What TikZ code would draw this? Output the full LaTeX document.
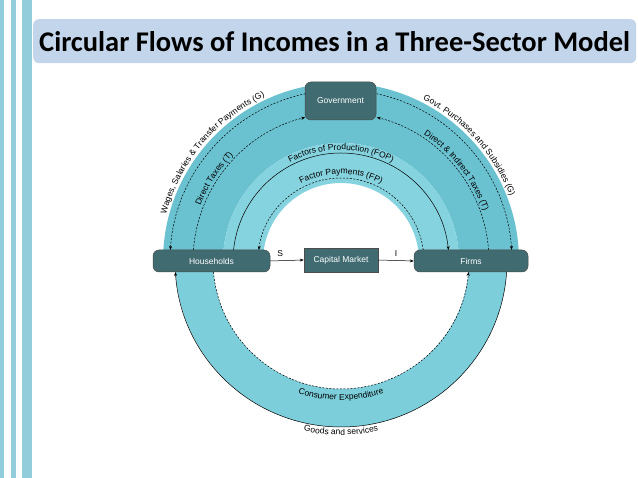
\documentclass[tikz,border=0pt]{standalone}
\usepackage{fontspec}
\setmainfont{Liberation Sans}
\newfontfamily\titlefont{Carlito}
\usetikzlibrary{decorations.text,arrows.meta}
\newcommand\lab{\fontsize{8.5}{10}\selectfont}
\begin{document}
\lab
\begin{tikzpicture}[x=1pt,y=1pt,
  box/.style={fill=boxc,draw=black!70,line width=0.5pt,rounded corners=6pt,text=white,inner sep=0pt},
  flow/.style={line width=0.5pt,-{Stealth[length=4pt,width=3pt]}},
  dflow/.style={flow,dashed,dash pattern=on 2pt off 1.5pt},
  lbl/.style={decorate,decoration={text along path,text align=center,text={#1}}}]
\definecolor{stripe}{HTML}{92CDDC}
\definecolor{titlec}{HTML}{C3D5EA}
\definecolor{boxc}{HTML}{3F6B71}
\definecolor{outerb}{HTML}{6AC1D0}
\definecolor{innerb}{HTML}{86D3E0}
\definecolor{lowerb}{HTML}{7DCEDB}
\useasboundingbox (0,0) rectangle (638,478);
\fill[white] (0,0) rectangle (638,478);
\fill[stripe] (0,0) rectangle (4,478);
\fill[stripe] (11,0) rectangle (16,478);
\fill[stripe] (22,0) rectangle (32,478);
\node[fill=titlec,rounded corners=6pt,minimum width=603pt,minimum height=44pt,anchor=north west,inner sep=0pt] (title) at (33,459)
  {\titlefont\bfseries\fontsize{28.5}{30}\selectfont Circular Flows of Incomes in a Three-Sector Model};
\coordinate (C) at (341,217);
% rings
\fill[outerb] ([shift={(0:178)}]C) arc[start angle=0,end angle=180,radius=178] -- ([shift={(180:118)}]C) arc[start angle=180,end angle=0,radius=118] -- cycle;
\fill[innerb] ([shift={(0:118)}]C) arc[start angle=0,end angle=180,radius=118] -- ([shift={(180:78)}]C) arc[start angle=180,end angle=0,radius=78] -- cycle;
\fill[lowerb] ([shift={(180:166)}]C) arc[start angle=180,end angle=360,radius=166] -- ([shift={(0:128)}]C) arc[start angle=360,end angle=180,radius=128] -- cycle;
% boxes
\node[box,minimum width=71pt,minimum height=38pt] (gov) at (340.5,377) {Government};
\node[box,minimum width=117pt,minimum height=22pt] (hh) at (211.5,217) {Households};
\node[box,minimum width=114pt,minimum height=22pt] (firms) at (471,217) {Firms};
\node[box,rounded corners=0pt,minimum width=74pt,minimum height=24pt] (cm) at (341,218) {Capital Market};
\draw[flow] (hh.east) -- node[pos=0.3,above=1pt]{S} (cm.west);
\draw[flow] (cm.east) -- node[pos=0.5,above=1pt]{I} (firms.west);
% upper flows
\coordinate (g1) at ([shift={(102:171)}]C);
\coordinate (g2) at ([shift={(78:171)}]C);
\draw[dflow] (g1) arc[start angle=102,end angle=176.3,radius=171];
\draw[dflow] (g2) arc[start angle=78,end angle=3.7,radius=171];
\coordinate (h2) at ([shift={(175.7:148)}]C);
\coordinate (f2) at ([shift={(4.3:148)}]C);
\draw[dflow] (h2) arc[start angle=175.7,end angle=104,radius=148];
\draw[dflow] (f2) arc[start angle=4.3,end angle=76,radius=148];
\coordinate (h3) at ([shift={(174.2:108)}]C);
\draw[flow] (h3) arc[start angle=174.2,end angle=5.8,radius=108];
\coordinate (f4) at ([shift={(7.6:83)}]C);
\draw[dflow] (f4) arc[start angle=7.6,end angle=172.4,radius=83];
% lower flows
\coordinate (f5) at ([shift={(-3.8:166)}]C);
\draw[flow] (f5) arc[start angle=-3.8,end angle=-176.2,radius=166];
\coordinate (h5) at ([shift={(184.9:128)}]C);
\draw[dflow] (h5) arc[start angle=184.9,end angle=355.1,radius=128];
% labels
\path[lbl={Wages, Salaries {\&} Transfer Payments (G)}] ([shift={(178:181)}]C) arc[start angle=178,end angle=102,radius=181];
\path[lbl={Govt. Purchases and Subsidies (G)}] ([shift={(80:181)}]C) arc[start angle=80,end angle=4,radius=181];
\path[lbl={Direct Taxes (T)}] ([shift={(172:151)}]C) arc[start angle=172,end angle=122,radius=151];
\path[lbl={Direct {\&} Indirect Taxes (T)}] ([shift={(70:151)}]C) arc[start angle=70,end angle=6,radius=151];
\path[lbl={Factors of Production (FOP)}] ([shift={(150:111)}]C) arc[start angle=150,end angle=30,radius=111];
\path[lbl={Factor Payments (FP)}] ([shift={(150:87)}]C) arc[start angle=150,end angle=30,radius=87];
\path[lbl={Consumer Expenditure}] ([shift={(220:139)}]C) arc[start angle=220,end angle=320,radius=139];
\path[lbl={Goods and services}] ([shift={(230:174)}]C) arc[start angle=230,end angle=310,radius=174];
\end{tikzpicture}
\end{document}
